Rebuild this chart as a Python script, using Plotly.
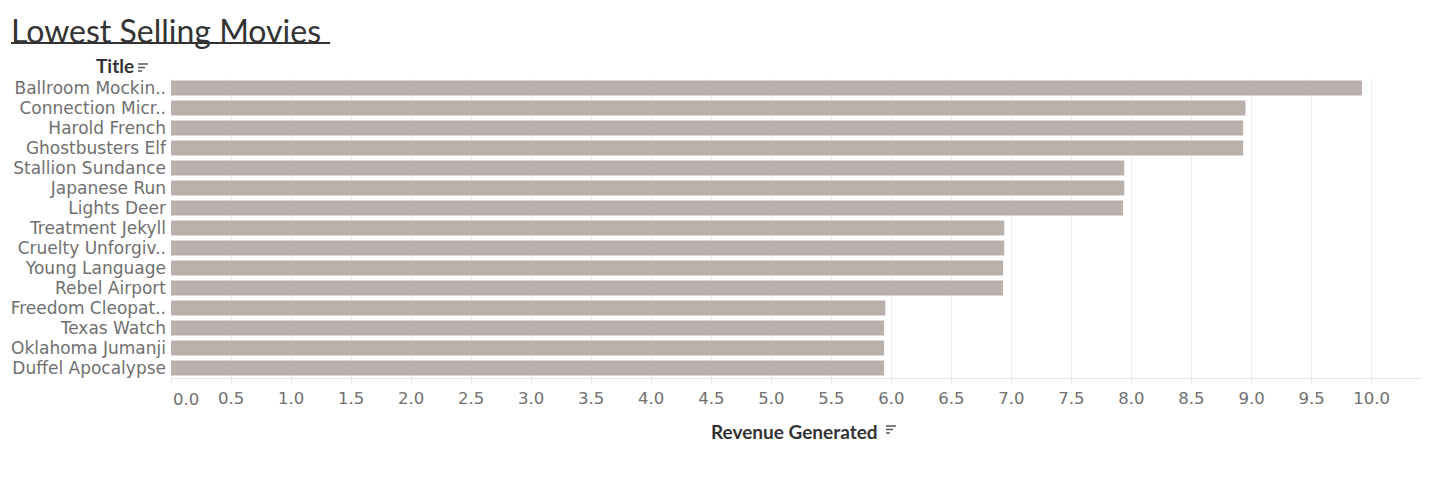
import plotly.graph_objects as go

titles = ["Ballroom Mockin..", "Connection Micr..", "Harold French", "Ghostbusters Elf",
          "Stallion Sundance", "Japanese Run", "Lights Deer", "Treatment Jekyll",
          "Cruelty Unforgiv..", "Young Language", "Rebel Airport", "Freedom Cleopat..",
          "Texas Watch", "Oklahoma Jumanji", "Duffel Apocalypse"]
revenue = [9.92, 8.95, 8.93, 8.93, 7.94, 7.94, 7.93, 6.94, 6.94, 6.93, 6.93, 5.95, 5.94, 5.94, 5.94]
tick_vals = [0.0, 0.5, 1.0, 1.5, 2.0, 2.5, 3.0, 3.5, 4.0, 4.5, 5.0, 5.5, 6.0, 6.5, 7.0, 7.5, 8.0, 8.5, 9.0, 9.5, 10.0]
tick_text = ["" if v == 0 else f"{v:.1f}" for v in tick_vals]

# page offset (body margin) compensation
OX, OY = 8, 8
W, H = 1432 - OX, 488 - OY
# plot area in page pixels: x 171..1422, y 78..378
L = 171 - OX
T = 78 - OY
R = W - (1422 - OX)
B = H - (378 - OY)
PW, PH = W - L - R, H - T - B

def px(x):
    return (x - OX - L) / PW

def py(y):
    return (378 - y) / PH

FONT = "Lato"
LFONT = "DejaVu Sans"
BAR = "#bab0ac"
LBL = "#707070"

fig = go.Figure(go.Bar(
    x=revenue, y=titles, orientation="h",
    marker=dict(color=BAR, line=dict(width=0)),
    width=0.75, hoverinfo="x+y",
))

fig.update_layout(
    width=W, height=H,
    margin=dict(l=L, r=R, t=T, b=B),
    paper_bgcolor="white", plot_bgcolor="white",
    showlegend=False,
    font=dict(family=LFONT, color="#666666"),
    xaxis=dict(
        range=[0, 10.42], tickvals=tick_vals, ticktext=tick_text,
        showgrid=True, gridcolor="#efefef", gridwidth=1,
        showline=True, linecolor="#e6e6e6", linewidth=1,
        ticks="outside", ticklen=5, tickcolor="#e6e6e6",
        tickfont=dict(size=16.5, color=LBL, family=LFONT),
        zeroline=False, fixedrange=True, automargin=False,
    ),
    yaxis=dict(
        autorange="reversed", showgrid=False, showline=False, zeroline=False,
        tickmode="array", tickvals=titles, ticktext=titles,
        ticks="", ticklabelstandoff=4,
        tickfont=dict(size=17, color=LBL, family=LFONT),
        fixedrange=True, automargin=False,
    ),
    bargap=0.25,
)

fig.add_shape(type="line", xref="x", yref="paper", x0=0, x1=0, y0=0, y1=1,
              line=dict(color="#efefef", width=1), layer="below")

ann = []
ann.append(dict(text="0.0", x=px(186), y=py(399), xref="paper", yref="paper",
                xanchor="center", yanchor="middle", showarrow=False,
                font=dict(size=16.5, color=LBL, family=LFONT)))
ann.append(dict(text="Lowest Selling Movies", x=px(8.5), y=py(30), xref="paper", yref="paper",
                xanchor="left", yanchor="middle", showarrow=False,
                font=dict(size=32, color="#333333", family=FONT)))
ann.append(dict(text="<b>Title</b>", x=px(136), y=py(66), xref="paper", yref="paper",
                xanchor="right", yanchor="middle", showarrow=False,
                font=dict(size=19, color="#333333", family=FONT)))
ann.append(dict(text="<b>Revenue Generated</b>", x=px(880), y=py(431), xref="paper", yref="paper",
                xanchor="right", yanchor="middle", showarrow=False,
                font=dict(size=19, color="#333333", family=FONT)))
fig.update_layout(annotations=ann)

shapes = []
shapes.append(dict(type="line", xref="paper", yref="paper",
                   x0=px(11), x1=px(330), y0=py(43), y1=py(43),
                   line=dict(color="#333333", width=2)))

def sort_icon(x0, ytop):
    out = []
    for i, ln in enumerate([10, 7, 4]):
        yy = ytop + i * 3.5
        out.append(dict(type="line", xref="paper", yref="paper",
                        x0=px(x0), x1=px(x0 + ln), y0=py(yy), y1=py(yy),
                        line=dict(color="#555555", width=1.5)))
    return out

shapes += sort_icon(138, 64)
shapes += sort_icon(886, 426)
fig.update_layout(shapes=fig.layout.shapes + tuple(shapes))

fig.write_html("out.html")
